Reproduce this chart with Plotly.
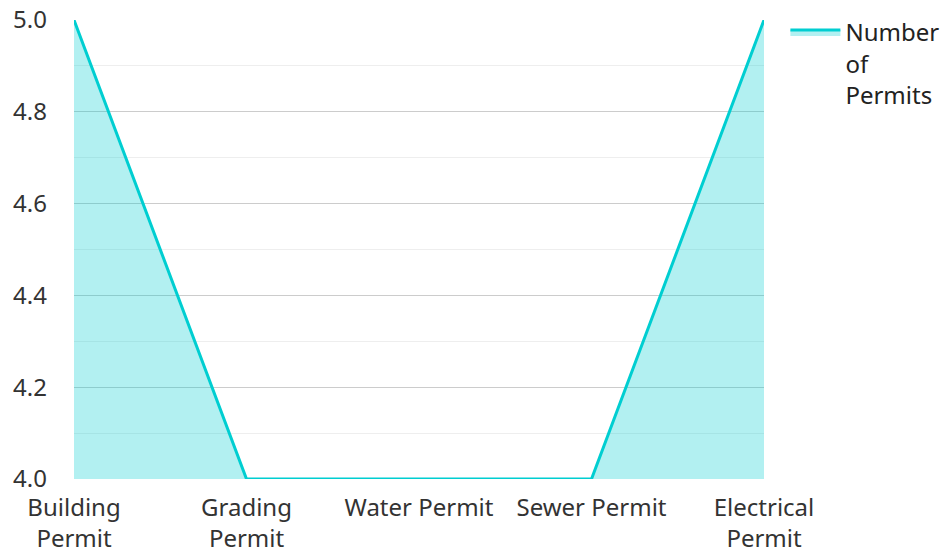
import plotly.graph_objects as go

categories = ["Building<br>Permit", "Grading<br>Permit", "Water Permit", "Sewer Permit", "Electrical<br>Permit"]
values = [5, 4, 4, 4, 5]
series_name = "Number<br>of<br>Permits"
y_ticks = [4.0, 4.2, 4.4, 4.6, 4.8, 5.0]
y_ticklabels = ["4.0", "4.2", "4.4", "4.6", "4.8", "5.0"]
y_minor = [4.1, 4.3, 4.5, 4.7, 4.9]

fig = go.Figure()
fig.add_trace(go.Scatter(
    x=categories, y=values, name=series_name, mode="lines",
    line=dict(color="#00CED1", width=3),
    fill="tozeroy", fillcolor="rgba(0,206,209,0.3)",
))

fig.update_layout(
    width=944, height=551,
    margin=dict(l=74, r=180, t=20, b=72, autoexpand=False),
    paper_bgcolor="white", plot_bgcolor="white",
    font=dict(family="Noto Sans", size=24, color="#333"),
    showlegend=True,
    legend=dict(x=1.031, y=1.022, xanchor="left", yanchor="top", valign="top",
                itemwidth=50, font=dict(size=24, color="#222")),
    xaxis=dict(range=[0, 4], showgrid=False, showline=False, ticks="", zeroline=False,
               automargin=False, ticklabelstandoff=12),
    yaxis=dict(range=[4, 5], tickmode="array", tickvals=y_ticks, ticktext=y_ticklabels,
               showgrid=True, gridcolor="#cccccc", ticklabeloverflow="allow",
               gridwidth=1, zeroline=False, showline=False, ticks="", automargin=False,
               ticklabelstandoff=26,
               minor=dict(tickmode="array", tickvals=y_minor, showgrid=True, gridcolor="#eeeeee")),
)

fig.write_html(
    "out.html",
    config={"displayModeBar": False},
    post_script="document.body.style.margin='0';document.body.style.overflow='hidden';",
)
